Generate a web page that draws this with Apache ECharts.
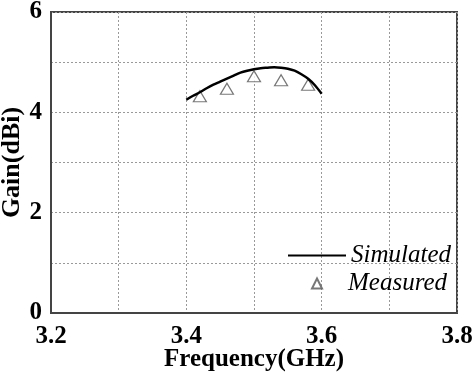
<!DOCTYPE html>
<html>
<head>
<meta charset="utf-8">
<script src="https://cdn.jsdelivr.net/npm/echarts@6/dist/echarts.min.js"></script>
<style>
html,body{margin:0;padding:0;background:#fff;}
#chart{width:474px;height:374px;}
</style>
</head>
<body>
<div id="chart"></div>
<script>
// Data
const simFreq = [3.40,3.41,3.42,3.43,3.44,3.45,3.46,3.47,3.48,3.49,3.50,3.51,3.52,3.53,3.54,3.55,3.56,3.57,3.58,3.59,3.60];
const simGain = [4.25,4.33,4.40,4.48,4.55,4.61,4.67,4.73,4.79,4.83,4.86,4.88,4.89,4.90,4.89,4.87,4.83,4.76,4.67,4.54,4.37];
const measFreq = [3.42,3.46,3.50,3.54,3.58];
const measGain = [4.32,4.47,4.72,4.64,4.55];
const xTickLabels = ['3.2','3.4','3.6','3.8'];
const yTickLabels = ['0','2','4','6'];
const seriesNames = ['Simulated','Measured'];

const serif = '"Liberation Serif","Times New Roman",serif';
const chart = echarts.init(document.getElementById('chart'), null, {renderer:'canvas'});
const simData = simFreq.map((f,i)=>[f, simGain[i]]);
const measData = measFreq.map((f,i)=>[f, measGain[i]]);

chart.setOption({
  animation:false,
  backgroundColor:'#fff',
  grid:{left:51,right:17,top:12,bottom:61,containLabel:false,outerBoundsMode:'none',
        show:true,borderColor:'#444',borderWidth:2,backgroundColor:'transparent'},
  xAxis:{
    type:'value',min:3.2,max:3.8,interval:0.1,
    name:'Frequency(GHz)',nameLocation:'middle',nameGap:34,nameMoveOverlap:false,
    nameTextStyle:{fontFamily:serif,fontWeight:'bold',fontSize:25,color:'#000'},
    axisLine:{show:true,lineStyle:{color:'#444',width:2}},
    axisTick:{show:false},
    axisLabel:{margin:11,fontFamily:serif,fontWeight:'bold',fontSize:25,color:'#000',
      formatter:v=>{const s=v.toFixed(1);return xTickLabels.includes(s)?s:'';}},
    splitLine:{show:true,lineStyle:{color:'#999',type:[2,2],width:1}}
  },
  yAxis:{
    type:'value',min:0,max:6,interval:1,
    name:'Gain(dBi)',nameLocation:'middle',nameGap:26,nameRotate:90,nameMoveOverlap:false,
    nameTextStyle:{fontFamily:serif,fontWeight:'bold',fontSize:26,color:'#000'},
    axisLine:{show:true,lineStyle:{color:'#444',width:2}},
    axisTick:{show:false},
    axisLabel:{margin:9,fontFamily:serif,fontWeight:'bold',fontSize:25,color:'#000',
      formatter:v=>{const s=String(Math.round(v));return yTickLabels.includes(s)?s:'';}},
    splitLine:{show:true,lineStyle:{color:'#999',type:[2,2],width:1}}
  },
  legend:[
    {data:[seriesNames[0]],left:282,top:238,itemWidth:58,itemHeight:14,
     itemStyle:{opacity:0},
     textStyle:{fontFamily:serif,fontStyle:'italic',fontSize:25,color:'#000'}},
    {data:[{name:seriesNames[1],icon:'triangle'}],left:306,top:266,itemWidth:10,itemHeight:10,
     textStyle:{fontFamily:serif,fontStyle:'italic',fontSize:25,color:'#000',padding:[0,0,0,21]}}
  ],
  series:[
    {name:seriesNames[0],type:'line',data:simData,smooth:0.3,symbol:'none',
     lineStyle:{color:'#000',width:2.5},itemStyle:{color:'#000'}},
    {name:seriesNames[1],type:'scatter',data:measData,symbol:'triangle',symbolSize:[13,11],
     itemStyle:{color:'#fff',borderColor:'#555',borderWidth:1.2}}
  ]
});
</script>
</body>
</html>
